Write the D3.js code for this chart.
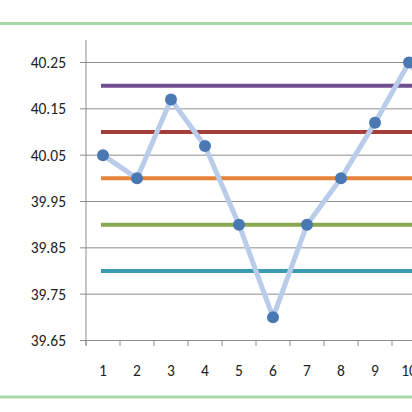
<!DOCTYPE html>
<html><head><meta charset="utf-8">
<script src="https://cdn.jsdelivr.net/npm/d3@7"></script>
<style>body{margin:0;background:#fff}text{font-family:Carlito,"Liberation Sans",Arial,sans-serif}</style>
</head><body>
<script>
// values
var categories = ['1','2','3','4','5','6','7','8','9','10','11'];
var values = [40.05, 40.00, 40.17, 40.07, 39.90, 39.70, 39.90, 40.00, 40.12, 40.25, 40.15];
var limits = [40.2, 40.1, 40.0, 39.9, 39.8];
var limitColors = ['#6f4f8f', '#a53e3a', '#e8833a', '#8aa84e', '#3b9bb0'];
var yTicks = [40.25, 40.15, 40.05, 39.95, 39.85, 39.75, 39.65];

var svg = d3.select('body').append('svg').attr('width', 412).attr('height', 412);

var x = d3.scaleBand().domain(categories).range([86, 86 + 34 * categories.length]);
var y = d3.scaleLinear().domain([39.65, 40.25]).range([340.5, 62.5]);

// green frame lines
svg.selectAll('line.frame').data([23.5, 397]).enter().append('line')
    .attr('x1', 0).attr('x2', 412).attr('y1', d => d).attr('y2', d => d)
    .attr('stroke', '#a9d9a9').attr('stroke-width', 3);

// gridlines
svg.selectAll('line.grid').data(yTicks).enter().append('line')
    .attr('x1', 80).attr('x2', 412).attr('y1', d => y(d)).attr('y2', d => y(d))
    .attr('stroke', '#8c8c8c').attr('stroke-width', 1);

// axes
var axisY = d3.axisLeft(y).tickValues(yTicks).tickFormat(d3.format('.2f')).tickSize(0).tickPadding(20);
var gy = svg.append('g').attr('transform', 'translate(86,0)').call(axisY);
gy.select('.domain').remove();
gy.selectAll('text').style('font-size', '15.5px').attr('fill', '#222');
svg.append('line').attr('x1', 86).attr('x2', 86).attr('y1', 40).attr('y2', 345)
    .attr('stroke', '#8c8c8c');

var axisX = d3.axisBottom(x).tickSize(0).tickPadding(24);
var gx = svg.append('g').attr('transform', 'translate(0,340.5)').call(axisX);
gx.select('.domain').remove();
gx.selectAll('text').style('font-size', '15.5px').attr('fill', '#222');
svg.selectAll('line.xt').data(categories).enter().append('line')
    .attr('x1', d => x(d)).attr('x2', d => x(d)).attr('y1', 340.5).attr('y2', 346)
    .attr('stroke', '#8c8c8c');

// limit lines
svg.selectAll('line.limit').data(limits).enter().append('line')
    .attr('x1', x('1') + x.bandwidth() / 2 - 2).attr('x2', 412)
    .attr('y1', d => y(d)).attr('y2', d => y(d))
    .attr('stroke', (d, i) => limitColors[i]).attr('stroke-width', 4);

// data line
var line = d3.line().x((d, i) => x(categories[i]) + x.bandwidth() / 2).y(d => y(d));
svg.append('path').datum(values).attr('d', line)
    .attr('fill', 'none').attr('stroke', '#b9cdea').attr('stroke-width', 5).attr('stroke-linejoin', 'round');
svg.selectAll('circle').data(values).enter().append('circle')
    .attr('cx', (d, i) => x(categories[i]) + x.bandwidth() / 2).attr('cy', d => y(d))
    .attr('r', 6).attr('fill', '#4a78b3');
</script>
</body></html>
